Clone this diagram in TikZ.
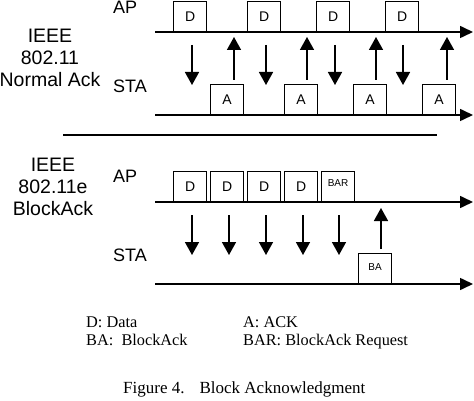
\documentclass[tikz,border=0pt]{standalone}
\usepackage{fontspec}
\setmainfont{Liberation Serif}
\newfontfamily\arialf{Liberation Sans}
\usetikzlibrary{arrows.meta}
\begin{document}
\begin{tikzpicture}[x=1pt,y=-1pt,
  frame/.style={draw, line width=1.2pt, inner sep=0pt, minimum width=33pt, minimum height=29.5pt, anchor=south west, font=\arialf\fontsize{14}{16}\selectfont},
  smallframe/.style={frame, font=\arialf\fontsize{10}{12}\selectfont},
  timeline/.style={line width=1.6pt, -{Triangle[length=13pt,width=12pt]}},
  msg/.style={line width=1.6pt, -{Triangle[length=13pt,width=14pt]}},
  lbl/.style={anchor=base west, inner sep=0pt, font=\arialf\fontsize{18}{20}\selectfont},
  ttl/.style={align=center, inner sep=0pt, font=\arialf\fontsize{19.5}{22}\selectfont},
  legend/.style={anchor=base west, inner sep=0pt, font=\fontsize{16.3}{18}\selectfont}]
\useasboundingbox (0,0) rectangle (474,401);

% ---------- top: normal ack ----------
\node[ttl] (t1) at (50,58) {IEEE\\802.11\\Normal Ack};
\node[lbl] (ap1) at (113,13.5) {AP};
\node[lbl] (sta1) at (113,93) {STA};
\coordinate (ap1s) at (155,32);  \coordinate (ap1e) at (473,32);
\coordinate (sta1s) at (155,115); \coordinate (sta1e) at (473,115);
\draw[timeline] (ap1s) -- (ap1e);
\draw[timeline] (sta1s) -- (sta1e);
\foreach \x [count=\i] in {173,247,316,385} {
  \node[frame] (d\i) at (\x,32) {D};
}
\foreach \x [count=\i] in {210,284,353,422} {
  \node[frame, minimum height=30pt] (a\i) at (\x,115) {A};
}
\foreach \x [count=\i] in {192,266,335,403} {
  \coordinate (dn\i s) at (\x,45); \coordinate (dn\i e) at (\x,85);
  \draw[msg] (dn\i s) -- (dn\i e);
}
\foreach \x [count=\i] in {234,307,376,447} {
  \coordinate (up\i s) at (\x,80); \coordinate (up\i e) at (\x,37);
  \draw[msg] (up\i s) -- (up\i e);
}

% separator
\coordinate (sepa) at (63,135); \coordinate (sepb) at (437,135);
\draw[line width=1.6pt] (sepa) -- (sepb);

% ---------- bottom: block ack ----------
\node[ttl] (t2) at (53,186.5) {IEEE\\802.11e\\BlockAck};
\node[lbl] (ap2) at (113,182.7) {AP};
\node[lbl] (sta2) at (113,261.7) {STA};
\coordinate (ap2s) at (155,202);  \coordinate (ap2e) at (473,202);
\coordinate (sta2s) at (155,284); \coordinate (sta2e) at (473,284);
\draw[timeline] (ap2s) -- (ap2e);
\draw[timeline] (sta2s) -- (sta2e);
\foreach \x [count=\i] in {173,210,247,284} {
  \node[frame, minimum height=30pt] (bd\i) at (\x,202) {D};
}
\node[smallframe, minimum height=30pt] (bar) at (321,202) {\raisebox{6pt}{BAR}};
\node[smallframe, minimum height=30pt] (ba) at (358,284) {\raisebox{3pt}{BA}};
\foreach \x [count=\i] in {192,229,266,303,339} {
  \coordinate (bdn\i s) at (\x,215); \coordinate (bdn\i e) at (\x,255);
  \draw[msg] (bdn\i s) -- (bdn\i e);
}
\coordinate (bups) at (381,249); \coordinate (bupe) at (381,208);
\draw[msg] (bups) -- (bupe);

% ---------- legend ----------
\node[legend] (l1) at (86,327) {D: Data};
\node[legend] (l2) at (243,327) {A: ACK};
\node[legend] (l3) at (86,345) {BA:\ \ BlockAck};
\node[legend] (l4) at (243,345) {BAR: BlockAck Request};
\node[legend, font=\fontsize{17}{19}\selectfont] (cap) at (123,393) {Figure 4.\hspace{15pt}Block Acknowledgment};
\end{tikzpicture}
\end{document}
